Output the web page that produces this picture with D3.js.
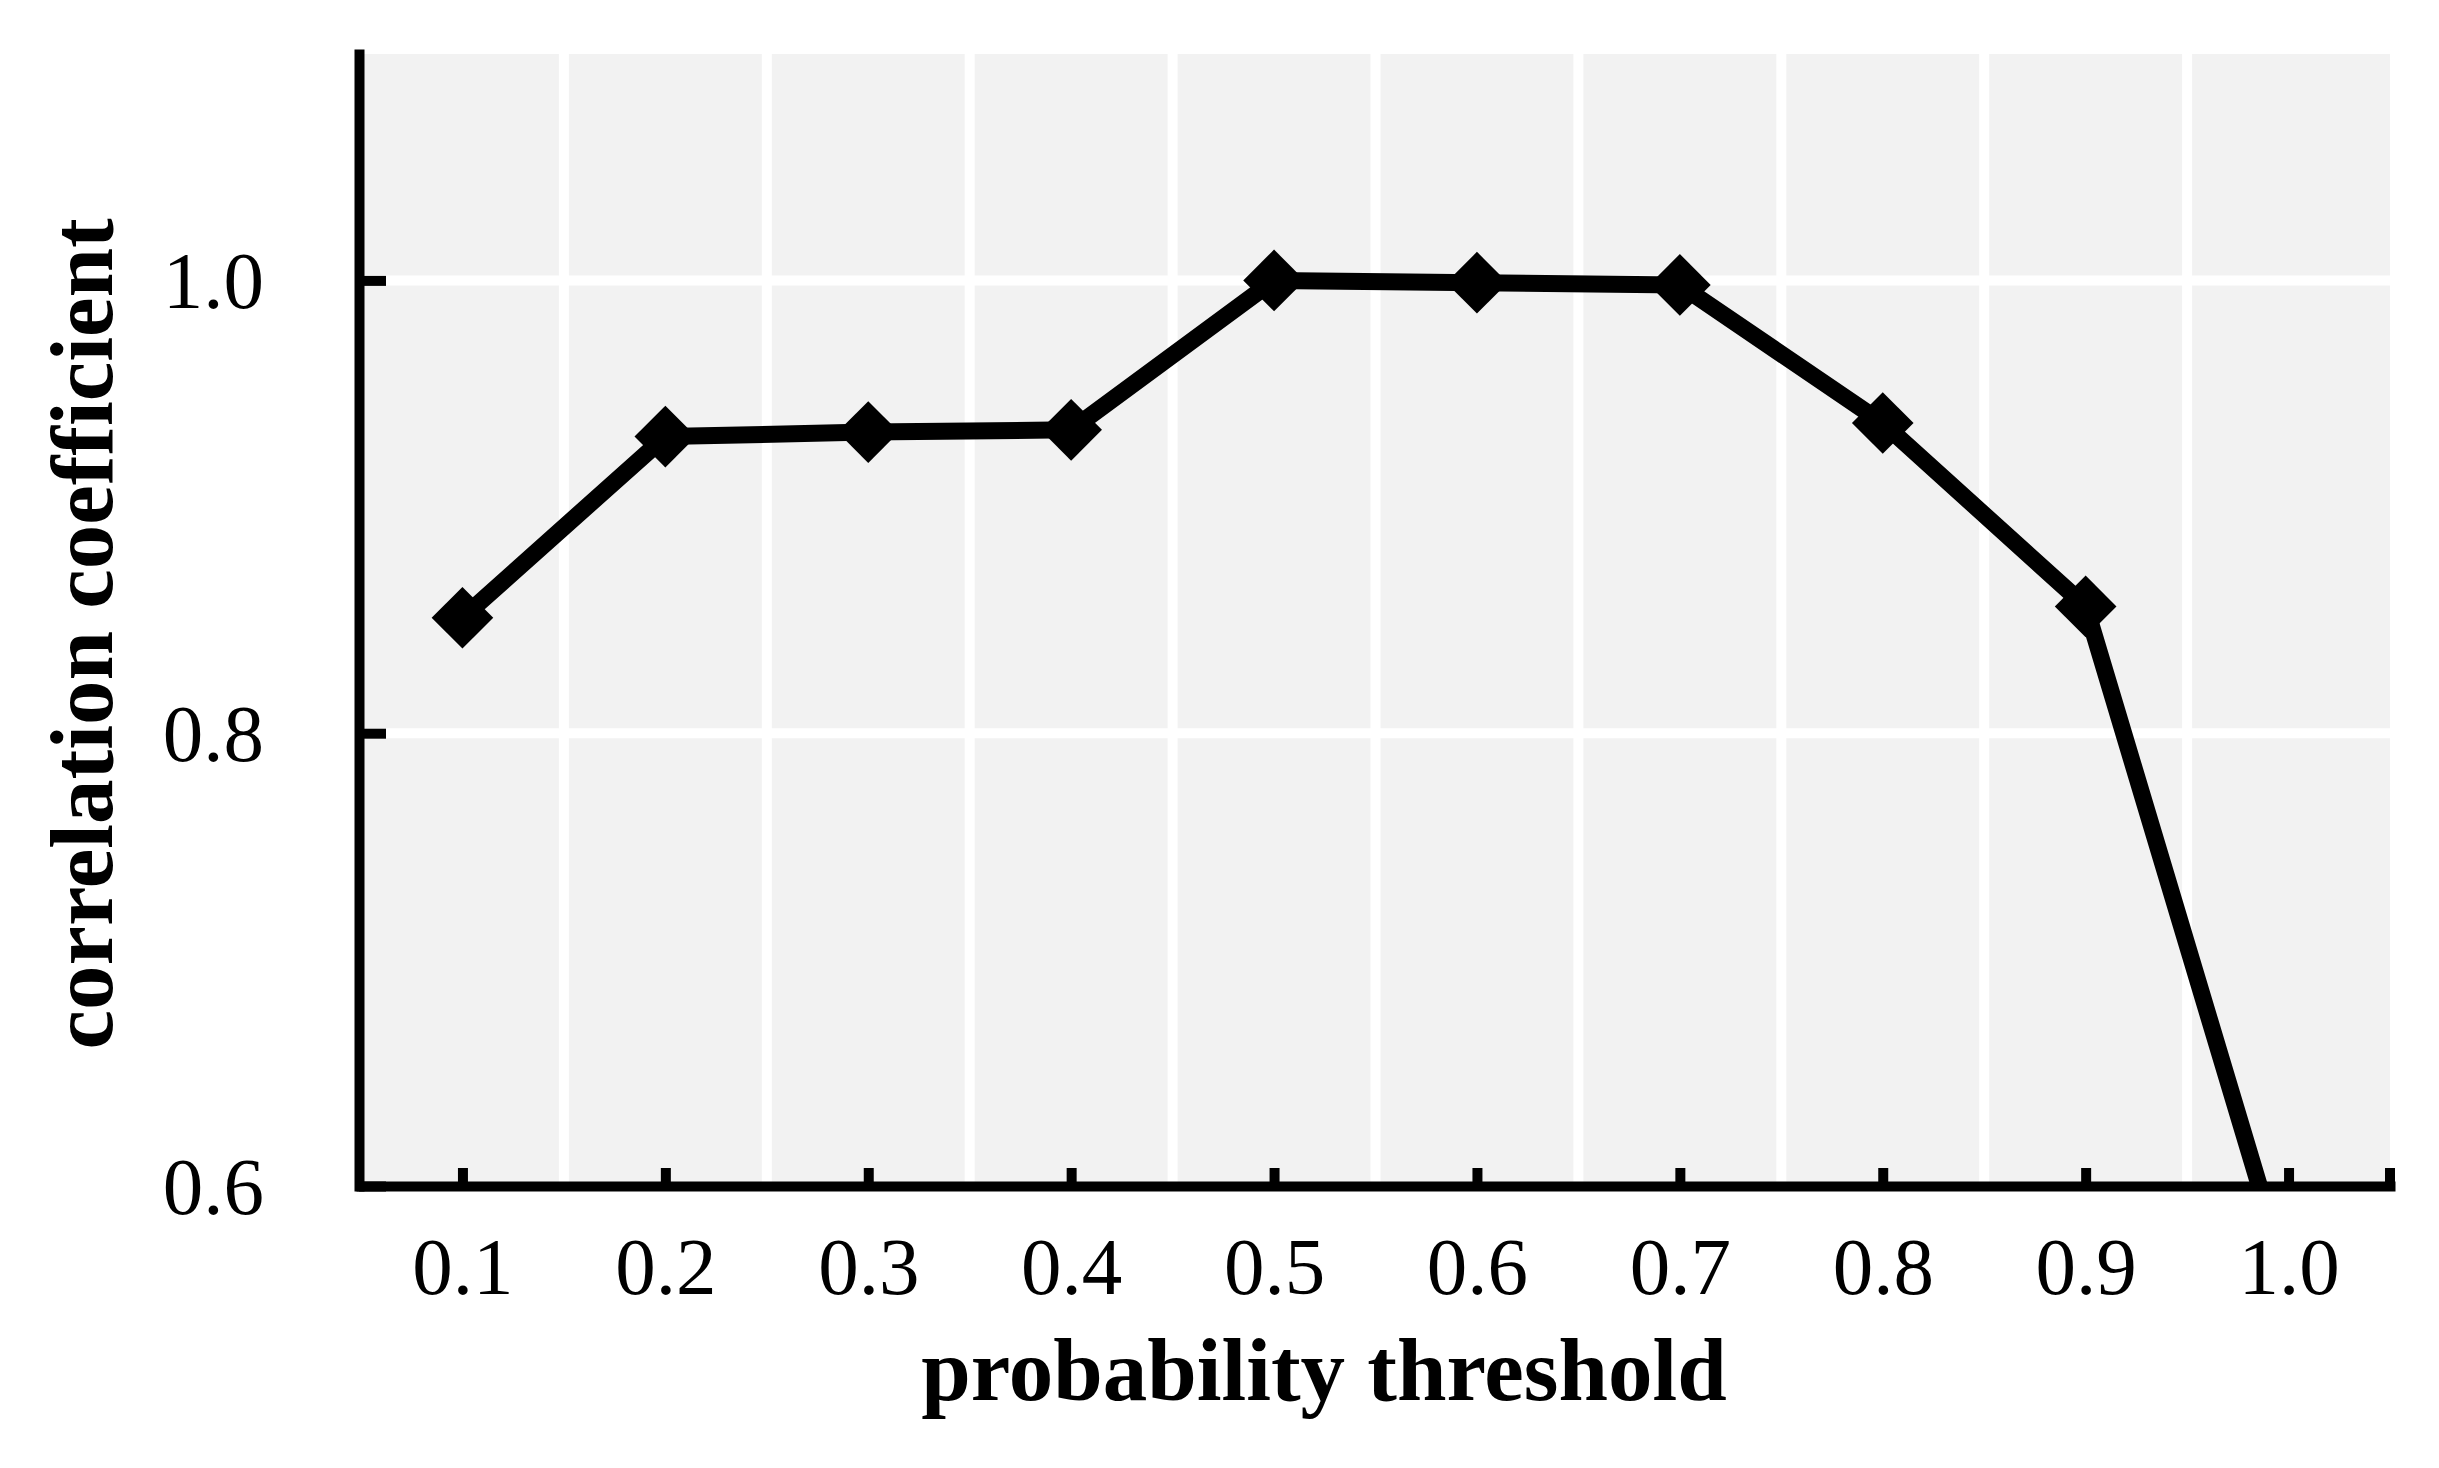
<!DOCTYPE html>
<html>
<head>
<meta charset="utf-8">
<script src="https://cdn.jsdelivr.net/npm/d3@7/dist/d3.min.js"></script>
<style>
html,body{margin:0;padding:0;background:#fff;}
svg{display:block;}
</style>
</head>
<body>
<svg id="chart" width="2439" height="1468"></svg>
<script>
// ---- data ----
const thresholds = ["0.1","0.2","0.3","0.4","0.5","0.6","0.7","0.8","0.9","1.0"];
const correlation = [0.851, 0.931, 0.933, 0.934, 1.000, 0.999, 0.998, 0.937, 0.856, 0.557];
const yTicks = [0.6, 0.8, 1.0];
const yDomain = [0.6, 1.1];
const xTitle = "probability threshold";
const yTitle = "correlation coefficient";

// ---- layout ----
const svg = d3.select("#chart");
const L = 361, R = 2390, T = 54, B = 1186;
const font = "'Liberation Serif','Times New Roman',serif";

const x = d3.scalePoint().domain(thresholds).range([L, R]).padding(0.5);
const y = d3.scaleLinear().domain(yDomain).range([B, T]);
const step = x.step();

// background
svg.append("rect").attr("x", L).attr("y", T).attr("width", R - L).attr("height", B - T).attr("fill", "#f2f2f2");

// grid lines
const grid = svg.append("g").attr("stroke", "#ffffff").attr("stroke-width", 10);
thresholds.slice(1).forEach(d => {
  const gx = x(d) - step / 2;
  grid.append("line").attr("x1", gx).attr("x2", gx).attr("y1", T).attr("y2", B);
});
yTicks.filter(v => v > yDomain[0]).forEach(v => {
  grid.append("line").attr("x1", L).attr("x2", R).attr("y1", y(v)).attr("y2", y(v));
});

// data line & markers (clipped to plot)
svg.append("clipPath").attr("id", "clip").append("rect")
  .attr("x", L).attr("y", T - 40).attr("width", R - L).attr("height", B - T + 40);
const plot = svg.append("g").attr("clip-path", "url(#clip)");
const pts = thresholds.map((t, i) => ({t, v: correlation[i]}));
plot.append("path").datum(pts)
  .attr("fill", "none").attr("stroke", "#000").attr("stroke-width", 17).attr("stroke-linejoin", "round")
  .attr("d", d3.line().x(d => x(d.t)).y(d => y(d.v)));
const sq = d3.symbol().type(d3.symbolSquare).size(1900);
plot.selectAll(".mk").data(pts).join("path")
  .attr("class", "mk")
  .attr("d", sq)
  .attr("transform", d => `translate(${x(d.t)},${y(d.v)}) rotate(45)`)
  .attr("fill", "#000");

// axes
const xAxis = d3.axisBottom(x).tickSizeInner(-18).tickSizeOuter(0).tickPadding(0);
const gx = svg.append("g").attr("transform", `translate(0,${B})`).call(xAxis);
gx.select(".domain").attr("stroke-width", 10).attr("stroke-linecap", "square");
gx.selectAll(".tick line").attr("stroke-width", 10);
gx.selectAll(".tick text").attr("y", 108).attr("dy", 0)
  .attr("font-family", font).attr("font-size", 81).attr("fill", "#000");
// tick at right end of x-axis
gx.append("line").attr("x1", x.range()[1]).attr("x2", x.range()[1]).attr("y1", 0).attr("y2", -18)
  .attr("stroke", "#000").attr("stroke-width", 10);

const yAxis = d3.axisLeft(y).tickValues(yTicks).tickFormat(d3.format(".1f"))
  .tickSizeInner(-27).tickSizeOuter(0).tickPadding(95);
const gy = svg.append("g").attr("transform", `translate(${L - 2},0)`).call(yAxis);
gy.select(".domain").attr("stroke-width", 10).attr("stroke-linecap", "square");
gy.selectAll(".tick line").attr("stroke-width", 10);
gy.selectAll(".tick text").attr("dy", "0.34em")
  .attr("font-family", font).attr("font-size", 81).attr("fill", "#000");

// titles
svg.append("text").attr("x", 1324).attr("y", 1400).attr("text-anchor", "middle")
  .attr("font-family", font).attr("font-weight", "bold").attr("font-size", 89).attr("fill", "#000")
  .text(xTitle);
svg.append("text").attr("transform", "translate(112,634) rotate(-90)").attr("text-anchor", "middle")
  .attr("font-family", font).attr("font-weight", "bold").attr("font-size", 89).attr("fill", "#000")
  .text(yTitle);
</script>
</body>
</html>
